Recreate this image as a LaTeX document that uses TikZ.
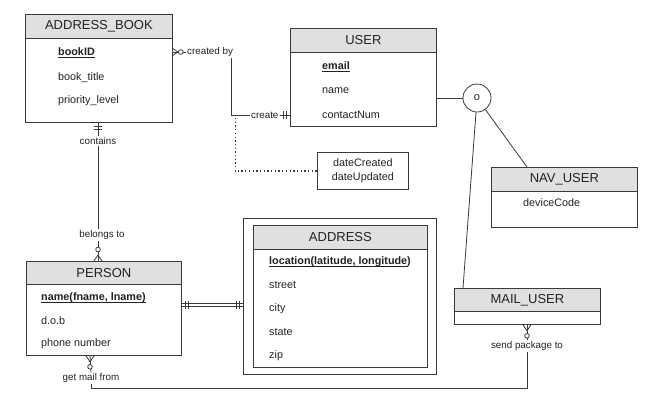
\documentclass[tikz,border=0pt]{standalone}
\usepackage{fontspec}
\setmainfont{Liberation Sans}
\usetikzlibrary{calc}
\definecolor{lc}{HTML}{3A3A3A}
\definecolor{hf}{HTML}{E0E0E0}
\definecolor{tc}{HTML}{222222}
\begin{document}
\begin{tikzpicture}[x=1pt,y=-1pt,
  hdr/.style={draw=lc, fill=hf, line width=0.8pt, anchor=north west, inner sep=0pt, font=\fontsize{13}{15}\selectfont, text=tc},
  bod/.style={draw=lc, fill=white, line width=0.8pt, anchor=north west, inner sep=0pt},
  attr/.style={anchor=west, inner sep=0pt, font=\fontsize{10.8}{13}\selectfont, text=tc},
  key/.style={anchor=west, inner sep=0pt, font=\fontsize{10.8}{13}\selectfont\bfseries, text=tc},
  uline/.style={draw=tc, line width=0.7pt},
  lab/.style={inner sep=1pt, font=\fontsize{9.8}{11}\selectfont, text=tc},
  conn/.style={draw=lc, line width=0.8pt},
  dotline/.style={draw=lc, line width=1.3pt, dash pattern=on 1.3pt off 2.4pt},
  zc/.style={draw=lc, line width=0.8pt, fill=white},
]
\useasboundingbox (0,0) rectangle (645,405);
\fill[white] (0,0) rectangle (645,405);

% ADDRESS_BOOK
\node[hdr, minimum width=147pt, minimum height=24pt] (abh) at (25,14) {ADDRESS\_BOOK};
\node[bod, minimum width=147pt, minimum height=84pt] (abb) at (25,38) {};
\node[key] (bookid) at (58,52) {bookID};
\draw[uline] ($(bookid.base west)+(0,1.8)$) -- ($(bookid.base east)+(0,1.8)$);
\node[attr] (booktitle) at (58,78) {book\_title};
\node[attr] (prio) at (58,101) {priority\_level};

% USER
\node[hdr, minimum width=146pt, minimum height=24pt] (userh) at (290,28) {USER};
\node[bod, minimum width=146pt, minimum height=74pt] (userb) at (290,52) {};
\node[key] (email) at (322,66) {email};
\draw[uline] ($(email.base west)+(0,1.8)$) -- ($(email.base east)+(0,1.8)$);
\node[attr] (uname) at (322,91) {name};
\node[attr] (contact) at (322,115) {contactNum};

% NAV_USER
\node[hdr, minimum width=146pt, minimum height=24pt] (navh) at (491,167) {NAV\_USER};
\node[bod, minimum width=146pt, minimum height=36pt] (navb) at (491,191) {};
\node[attr] (device) at (523,203) {deviceCode};

% ADDRESS (weak entity, double box)
\node[bod, minimum width=193pt, minimum height=156pt] (addro) at (243,218) {};
\node[hdr, minimum width=174pt, minimum height=24pt] (addrh) at (253,225) {ADDRESS};
\node[bod, minimum width=174pt, minimum height=118pt] (addrb) at (253,249) {};
\node[key] (loc) at (269,262) {location(latitude, longitude)};
\draw[uline] ($(loc.base west)+(0,1.8)$) -- ($(loc.base east)+(-3,1.8)$);
\node[attr] (street) at (269,285) {street};
\node[attr] (city) at (269,309) {city};
\node[attr] (state) at (269,332) {state};
\node[attr] (zip) at (269,356) {zip};

% PERSON
\node[hdr, minimum width=155pt, minimum height=23pt] (personh) at (26,261) {PERSON};
\node[bod, minimum width=155pt, minimum height=71pt] (personb) at (26,284) {};
\node[key] (pname) at (41,298) {name(fname, lname)};
\draw[uline] ($(pname.base west)+(0,1.8)$) -- ($(pname.base east)+(0,1.8)$);
\node[attr] (dob) at (41,321) {d.o.b};
\node[attr] (phone) at (41,344) {phone number};

% MAIL_USER
\node[hdr, minimum width=146pt, minimum height=23pt] (mailh) at (454,288) {MAIL\_USER};
\node[bod, minimum width=146pt, minimum height=13pt] (mailb) at (454,311) {};

% dates box
\node[bod, minimum width=91pt, minimum height=37pt, align=center, font=\fontsize{10.8}{13.5}\selectfont, text=tc] (datebox) at (317,152) {dateCreated\\dateUpdated};

% disjoint circle
\node[circle, draw=lc, line width=0.8pt, minimum size=28pt, inner sep=0pt, fill=white, font=\fontsize{11}{13}\selectfont, text=tc] (disj) at (477,98) {o};

% ---- ADDRESS_BOOK created by USER
\coordinate (abR) at (abb.east |- bookid);
\node[lab, anchor=west] (lcb) at (186,52) {created by};
\draw[conn] (abR) -- (lcb.west);
\draw[conn] ($(abR)+(0,-3.5)$) -- ($(abR)+(5,0)$) -- ($(abR)+(0,3.5)$);
\draw[zc] ($(abR)+(8,0)$) circle (2.3);
\node[lab, anchor=west] (lcr) at (250,115) {create};
\coordinate (cb1) at ($(lcb.south east)+(-3,0)$);
\draw[conn] (cb1) |- (lcr.west);
\coordinate (uL) at (lcr.east -| userb.west);
\draw[conn] (lcr.east) -- (uL);
\draw[conn] ($(uL)+(-6.5,-4)$) -- ($(uL)+(-6.5,4)$);
\draw[conn] ($(uL)+(-3.5,-4)$) -- ($(uL)+(-3.5,4)$);
\coordinate (d0) at ($(cb1 |- lcr.west)+(4,3)$);
\draw[dotline] (d0) |- (datebox.west);

% ---- disjoint specialization
\draw[conn] (userb.east |- disj) -- (disj.west);
\coordinate (navtop) at ($(navh.north west)+(36,0)$);
\draw[conn] (disj.-54) -- (navtop);
\coordinate (mailtop) at ($(mailh.north west)+(9,0)$);
\draw[conn] (disj.-94.5) -- (mailtop);

% ---- ADDRESS_BOOK contains / belongs to PERSON
\coordinate (abB) at ($(abb.south west)+(73,0)$);
\node[lab] (lco) at (98,141) {contains};
\draw[conn] (abB) -- (lco.north);
\draw[conn] ($(abB)+(-4,3.5)$) -- ($(abB)+(4,3.5)$);
\draw[conn] ($(abB)+(-4,7)$) -- ($(abB)+(4,7)$);
\node[lab] (lbt) at (102,235) {belongs to};
\draw[conn] (lco.south) -- (lco.south |- lbt.north);
\coordinate (pT) at ($(personh.north west)+(72,0)$);
\draw[conn] (pT |- lbt.south) -- (pT);
\draw[conn] ($(pT)+(-4,0)$) -- ($(pT)+(0,-6)$) -- ($(pT)+(4,0)$);
\draw[zc] ($(pT)+(0,-11.5)$) circle (2.3);

% ---- PERSON -- ADDRESS (identifying)
\coordinate (pR) at ($(personb.north east)+(0,21)$);
\coordinate (aL) at (addro.west |- pR);
\draw[conn, double=white, double distance=2.2pt] (pR) -- (aL);
\draw[conn] ($(pR)+(4,-4)$) -- ($(pR)+(4,4)$);
\draw[conn] ($(pR)+(7,-4)$) -- ($(pR)+(7,4)$);
\draw[conn] ($(aL)+(-4,-4)$) -- ($(aL)+(-4,4)$);
\draw[conn] ($(aL)+(-7,-4)$) -- ($(aL)+(-7,4)$);

% ---- PERSON get mail from / send package to MAIL_USER
\coordinate (pB) at ($(personb.south west)+(64,0)$);
\node[lab] (lgm) at (91,378) {get mail from};
\draw[conn] (pB) -- (lgm.north);
\draw[conn] ($(pB)+(-4,0)$) -- ($(pB)+(0,6)$) -- ($(pB)+(4,0)$);
\draw[zc] ($(pB)+(0,11)$) circle (2.3);
\coordinate (mB) at ($(mailb.south west)+(73,0)$);
\node[lab] (lsp) at (527,346) {send package to};
\draw[conn] (mB) -- (lsp.north);
\draw[conn] ($(mB)+(-4,0)$) -- ($(mB)+(0,6)$) -- ($(mB)+(4,0)$);
\draw[zc] ($(mB)+(0,11)$) circle (2.3);
\coordinate (gy) at (0,388);
\draw[conn] (lgm.south) |- (gy -| lsp.south) -- (lsp.south);

\end{tikzpicture}
\end{document}
